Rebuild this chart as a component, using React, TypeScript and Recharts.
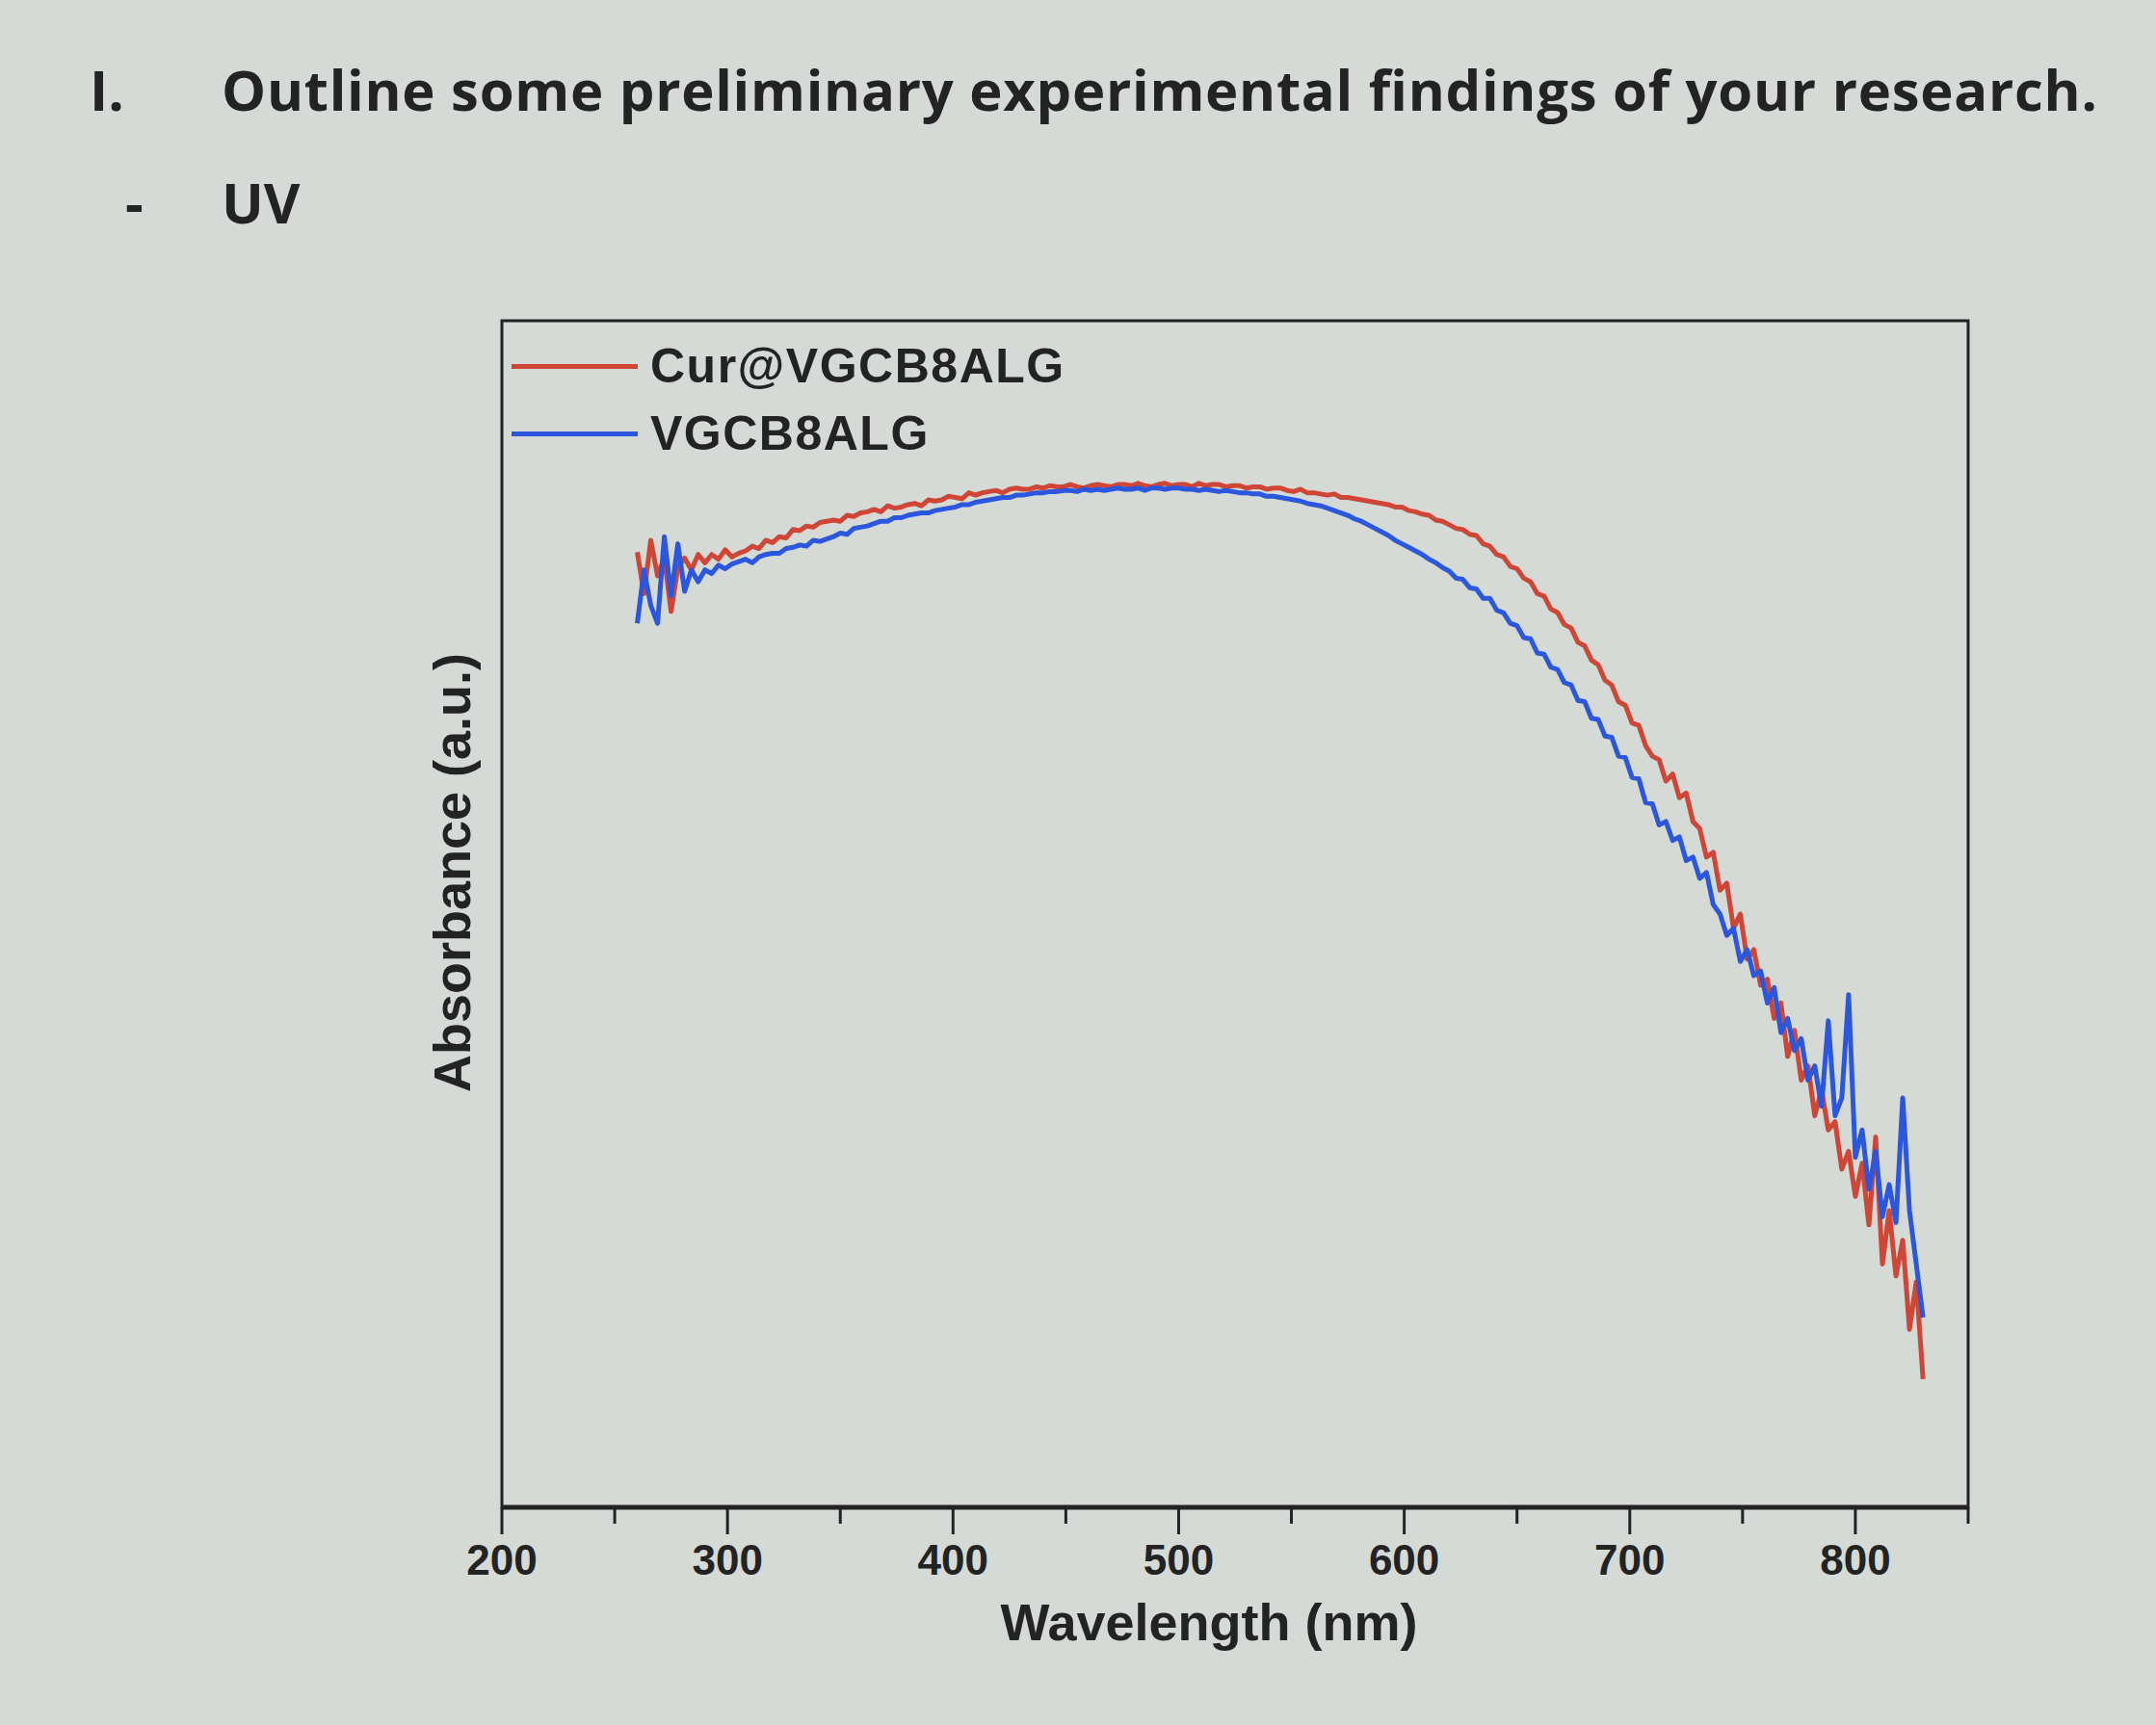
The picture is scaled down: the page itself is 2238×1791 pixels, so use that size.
import React from 'react';
import { LineChart, Line, XAxis, YAxis, Legend, Label, ReferenceArea } from 'recharts';

const W = 2238;
const H = 1791;
const BG = '#d5dad6';
const INK = '#232323';
const RED = '#cf4536';
const BLUE = '#2b56de';
const CHART_FONT = '"Liberation Sans", Arial, sans-serif';
const TITLE_FONT = '"Open Sans", "Noto Sans", sans-serif';

// Wavelength (nm) categories
const wavelengths = [
  260, 263, 266, 269, 272, 275, 278, 281, 284, 287,
  290, 293, 296, 299, 302, 305, 308, 311, 314, 317,
  320, 323, 326, 329, 332, 335, 338, 341, 344, 347,
  350, 353, 356, 359, 362, 365, 368, 371, 374, 377,
  380, 383, 386, 389, 392, 395, 398, 401, 404, 407,
  410, 413, 416, 419, 422, 425, 428, 431, 434, 437,
  440, 443, 446, 449, 452, 455, 458, 461, 464, 467,
  470, 473, 476, 479, 482, 485, 488, 491, 494, 497,
  500, 503, 506, 509, 512, 515, 518, 521, 524, 527,
  530, 533, 536, 539, 542, 545, 548, 551, 554, 557,
  560, 563, 566, 569, 572, 575, 578, 581, 584, 587,
  590, 593, 596, 599, 602, 605, 608, 611, 614, 617,
  620, 623, 626, 629, 632, 635, 638, 641, 644, 647,
  650, 653, 656, 659, 662, 665, 668, 671, 674, 677,
  680, 683, 686, 689, 692, 695, 698, 701, 704, 707,
  710, 713, 716, 719, 722, 725, 728, 731, 734, 737,
  740, 743, 746, 749, 752, 755, 758, 761, 764, 767,
  770, 773, 776, 779, 782, 785, 788, 791, 794, 797,
  800, 803, 806, 809, 812, 815, 818, 821, 824, 827,
  830,
];

// Absorbance (a.u.) of Cur@VGCB8ALG (red)
const curVgcb8alg = [
  0.805, 0.770, 0.815, 0.785, 0.800, 0.755, 0.792, 0.800, 0.790, 0.803,
  0.796, 0.803, 0.799, 0.807, 0.801, 0.804, 0.806, 0.810, 0.808, 0.815,
  0.813, 0.818, 0.817, 0.824, 0.823, 0.827, 0.826, 0.830, 0.831, 0.832,
  0.831, 0.836, 0.835, 0.838, 0.839, 0.841, 0.839, 0.844, 0.842, 0.843,
  0.845, 0.846, 0.844, 0.849, 0.848, 0.849, 0.852, 0.851, 0.850, 0.855,
  0.853, 0.855, 0.856, 0.857, 0.855, 0.858, 0.859, 0.858, 0.858, 0.860,
  0.859, 0.861, 0.860, 0.860, 0.862, 0.860, 0.859, 0.861, 0.862, 0.861,
  0.860, 0.862, 0.862, 0.861, 0.863, 0.861, 0.860, 0.862, 0.863, 0.861,
  0.862, 0.862, 0.860, 0.863, 0.861, 0.862, 0.862, 0.860, 0.861, 0.861,
  0.859, 0.860, 0.860, 0.858, 0.859, 0.859, 0.857, 0.856, 0.858, 0.855,
  0.855, 0.854, 0.853, 0.854, 0.851, 0.851, 0.850, 0.849, 0.848, 0.847,
  0.846, 0.845, 0.843, 0.843, 0.840, 0.839, 0.837, 0.836, 0.832, 0.831,
  0.828, 0.825, 0.824, 0.820, 0.819, 0.812, 0.810, 0.803, 0.801, 0.793,
  0.791, 0.783, 0.780, 0.770, 0.768, 0.757, 0.754, 0.744, 0.741, 0.729,
  0.726, 0.714, 0.710, 0.697, 0.693, 0.679, 0.676, 0.661, 0.659, 0.642,
  0.633, 0.630, 0.612, 0.618, 0.598, 0.602, 0.578, 0.572, 0.548, 0.552,
  0.520, 0.526, 0.488, 0.500, 0.462, 0.470, 0.440, 0.445, 0.412, 0.425,
  0.380, 0.402, 0.360, 0.372, 0.330, 0.352, 0.318, 0.325, 0.285, 0.300,
  0.262, 0.290, 0.238, 0.312, 0.205, 0.250, 0.195, 0.225, 0.150, 0.190,
  0.108,
];

// Absorbance (a.u.) of VGCB8ALG (blue)
const vgcb8alg = [
  0.745, 0.790, 0.760, 0.745, 0.818, 0.768, 0.812, 0.772, 0.790, 0.780,
  0.790, 0.787, 0.794, 0.791, 0.795, 0.797, 0.799, 0.796, 0.801, 0.803,
  0.804, 0.804, 0.808, 0.809, 0.811, 0.810, 0.815, 0.814, 0.816, 0.818,
  0.821, 0.820, 0.825, 0.826, 0.827, 0.829, 0.831, 0.831, 0.834, 0.834,
  0.836, 0.837, 0.838, 0.838, 0.840, 0.841, 0.842, 0.843, 0.845, 0.845,
  0.847, 0.848, 0.849, 0.850, 0.851, 0.851, 0.853, 0.853, 0.854, 0.855,
  0.855, 0.856, 0.856, 0.857, 0.857, 0.856, 0.858, 0.857, 0.858, 0.857,
  0.858, 0.859, 0.858, 0.858, 0.859, 0.857, 0.859, 0.859, 0.858, 0.859,
  0.859, 0.858, 0.858, 0.857, 0.858, 0.857, 0.856, 0.857, 0.856, 0.855,
  0.855, 0.854, 0.854, 0.852, 0.852, 0.851, 0.850, 0.849, 0.848, 0.846,
  0.845, 0.844, 0.842, 0.840, 0.838, 0.836, 0.833, 0.831, 0.828, 0.825,
  0.822, 0.819, 0.815, 0.812, 0.809, 0.806, 0.803, 0.799, 0.796, 0.792,
  0.789, 0.783, 0.782, 0.775, 0.774, 0.766, 0.766, 0.756, 0.754, 0.745,
  0.743, 0.733, 0.732, 0.720, 0.719, 0.708, 0.706, 0.695, 0.693, 0.680,
  0.679, 0.665, 0.664, 0.650, 0.649, 0.633, 0.632, 0.615, 0.614, 0.594,
  0.593, 0.575, 0.578, 0.562, 0.565, 0.545, 0.548, 0.530, 0.535, 0.508,
  0.500, 0.482, 0.488, 0.460, 0.470, 0.448, 0.452, 0.425, 0.438, 0.400,
  0.412, 0.385, 0.395, 0.360, 0.372, 0.338, 0.410, 0.330, 0.345, 0.432,
  0.295, 0.318, 0.268, 0.300, 0.245, 0.272, 0.240, 0.345, 0.250, 0.205,
  0.160,
];

const xTicks = [200, 250, 300, 350, 400, 450, 500, 550, 600, 650, 700, 750, 800, 850];
const xDomain = [200, 850];
const yDomain = [0, 1];
const seriesNames = ['Cur@VGCB8ALG', 'VGCB8ALG'];

const data = wavelengths.map((wl, i) => ({ wl, cur: curVgcb8alg[i], base: vgcb8alg[i] }));

function WavelengthTick(props: any) {
  const { x, y, payload } = props;
  const v = payload.value as number;
  const major = v % 100 === 0;
  return (
    <g>
      <line x1={x} y1={y} x2={x} y2={y + (major ? 28 : 17)} stroke={INK} strokeWidth={3} />
      {major && v <= 800 ? (
        <text
          x={x}
          y={y + 70}
          textAnchor="middle"
          fontFamily={CHART_FONT}
          fontWeight="bold"
          fontSize={44}
          fill={INK}
        >
          {v}
        </text>
      ) : null}
    </g>
  );
}

function XTitle(props: any) {
  const vb = props.viewBox || {};
  return (
    <text
      x={vb.x + vb.width / 2 - 27}
      y={vb.y + vb.height + 18}
      textAnchor="middle"
      fontFamily={CHART_FONT}
      fontWeight="bold"
      fontSize={54}
      fill={INK}
    >
      Wavelength (nm)
    </text>
  );
}

function LegendBox(props: any) {
  const payload = props.payload || [];
  return (
    <div>
      {payload.map((entry: any, i: number) => (
        <div key={i} style={{ display: 'flex', alignItems: 'center', height: 70 }}>
          <div style={{ width: 131, height: 5, background: entry.color }} />
          <span
            style={{
              marginLeft: 13,
              fontFamily: CHART_FONT,
              fontWeight: 'bold',
              fontSize: 50,
              letterSpacing: 1.5,
              lineHeight: '70px',
              color: INK,
              whiteSpace: 'nowrap',
            }}
          >
            {entry.value}
          </span>
        </div>
      ))}
    </div>
  );
}

export default function App() {
  return (
    <div
      style={{
        position: 'absolute',
        left: 0,
        top: 0,
        width: W,
        height: H,
        background: BG,
        overflow: 'hidden',
      }}
    >
      <svg width={W} height={300} style={{ position: 'absolute', left: 0, top: 0 }}>
        <text x={93} y={115} fontFamily={TITLE_FONT} fontWeight={700} fontSize={58} fill={INK}>
          I.
        </text>
        <text
          x={230}
          y={115}
          textLength={1947}
          lengthAdjust="spacing"
          fontFamily={TITLE_FONT}
          fontWeight={700}
          fontSize={58}
          fill={INK}
        >
          Outline some preliminary experimental findings of your research.
        </text>
        <text x={130} y={232} fontFamily={TITLE_FONT} fontWeight={700} fontSize={58} fill={INK}>
          -
        </text>
        <text x={230} y={232} fontFamily={TITLE_FONT} fontWeight={700} fontSize={58} fill={INK}>
          UV
        </text>
      </svg>
      <div style={{ position: 'absolute', left: 0, top: 0 }}>
        <LineChart
          width={W}
          height={H}
          data={data}
          margin={{ top: 333, right: 195, bottom: 106, left: 521 }}
          style={{ fontFamily: CHART_FONT }}
        >
          <XAxis
            dataKey="wl"
            type="number"
            domain={xDomain}
            ticks={xTicks}
            interval={0}
            allowDataOverflow
            height={120}
            tickSize={0}
            tickMargin={0}
            tickLine={false}
            tick={<WavelengthTick />}
            axisLine={{ stroke: INK, strokeWidth: 5 }}
          >
            <Label content={<XTitle />} />
          </XAxis>
          <YAxis hide type="number" domain={yDomain} />
          <ReferenceArea
            x1={xDomain[0]}
            x2={xDomain[1]}
            y1={yDomain[0]}
            y2={yDomain[1]}
            fill="none"
            fillOpacity={0}
            stroke={INK}
            strokeWidth={3}
            ifOverflow="visible"
          />
          <Legend
            layout="vertical"
            align="center"
            verticalAlign="middle"
            content={<LegendBox />}
            wrapperStyle={{ left: 531, top: 345, width: 'auto', height: 'auto' }}
          />
          <Line
            type="linear"
            dataKey="cur"
            name={seriesNames[0]}
            stroke={RED}
            strokeWidth={5}
            strokeLinejoin="round"
            dot={false}
            activeDot={false}
            isAnimationActive={false}
          />
          <Line
            type="linear"
            dataKey="base"
            name={seriesNames[1]}
            stroke={BLUE}
            strokeWidth={5}
            strokeLinejoin="round"
            dot={false}
            activeDot={false}
            isAnimationActive={false}
          />
        </LineChart>
      </div>
      <svg width={W} height={H} style={{ position: 'absolute', left: 0, top: 0, pointerEvents: 'none' }}>
        <text
          x={488}
          y={906}
          transform="rotate(-90 488 906)"
          textAnchor="middle"
          fontFamily={CHART_FONT}
          fontWeight="bold"
          fontSize={54}
          fill={INK}
        >
          Absorbance (a.u.)
        </text>
      </svg>
    </div>
  );
}
